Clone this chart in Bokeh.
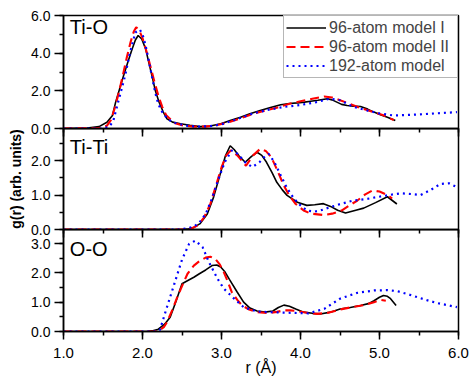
from bokeh.plotting import figure
from bokeh.layouts import column
from bokeh.models import (Range1d, Label, Legend, LegendItem,
                          SingleIntervalTicker, PrintfTickFormatter)
from bokeh.embed import file_html
from bokeh.resources import INLINE

FONT = "Liberation Sans"

# ---------------- data ----------------
series_names = ["96-atom model I", "96-atom model II", "192-atom model"]
panel_names = ["Ti-O", "Ti-Ti", "O-O"]

# Ti-O
tio_r1 = [1.0, 1.3, 1.45, 1.55, 1.62, 1.66, 1.71, 1.76, 1.82, 1.87, 1.91, 1.945, 1.99, 2.04, 2.08, 2.12,
          2.16, 2.21, 2.26, 2.31, 2.38, 2.48, 2.6, 2.73, 2.86, 2.99, 3.11, 3.24, 3.36, 3.49, 3.62, 3.75,
          3.86, 3.96, 4.05, 4.13, 4.22, 4.34, 4.4, 4.46, 4.52, 4.59, 4.67, 4.76, 4.85, 4.93, 5.02, 5.1, 5.2]
tio_g1 = [0, 0.02, 0.1, 0.33, 0.69, 1.4, 2.1, 2.8, 3.6, 4.23, 4.7, 4.94, 4.75, 4.23, 3.5, 2.8,
          2.05, 1.4, 0.9, 0.51, 0.34, 0.25, 0.17, 0.1, 0.13, 0.25, 0.42, 0.6, 0.78, 0.96, 1.12, 1.26,
          1.33, 1.36, 1.4, 1.45, 1.5, 1.58, 1.52, 1.4, 1.28, 1.22, 1.19, 1.17, 1.03, 0.87, 0.72, 0.6, 0.42]
tio_r2 = [1.0, 1.45, 1.55, 1.6, 1.65, 1.7, 1.75, 1.8, 1.85, 1.89, 1.92, 1.96, 2.0, 2.05, 2.1, 2.15,
          2.2, 2.25, 2.3, 2.4, 2.5, 2.65, 2.8, 2.95, 3.1, 3.25, 3.4, 3.55, 3.7, 3.85, 4.0, 4.15, 4.3,
          4.4, 4.5, 4.6, 4.75, 4.9, 5.05, 5.18]
tio_g2 = [0, 0.02, 0.15, 0.45, 1.1, 1.9, 2.8, 3.75, 4.6, 5.15, 5.38, 5.2, 4.8, 4.1, 3.3, 2.5,
          1.75, 1.15, 0.7, 0.3, 0.17, 0.1, 0.1, 0.18, 0.35, 0.55, 0.78, 0.95, 1.1, 1.3, 1.45, 1.58, 1.7,
          1.65, 1.5, 1.35, 1.1, 0.9, 0.7, 0.45]
tio_r3 = [1.0, 1.5, 1.58, 1.63, 1.68, 1.73, 1.785, 1.84, 1.91, 1.966, 2.0, 2.04, 2.1, 2.16, 2.2, 2.25,
          2.31, 2.38, 2.55, 2.7, 2.85, 3.0, 3.2, 3.4, 3.6, 3.8, 4.0, 4.2, 4.37, 4.5, 4.67, 4.85, 5.0,
          5.18, 5.43, 5.7, 5.98]
tio_g3 = [0, 0.0, 0.1, 0.4, 1.22, 2.0, 2.9, 4.0, 5.1, 5.25, 5.0, 4.4, 3.17, 1.93, 1.3, 0.87,
          0.55, 0.33, 0.15, 0.1, 0.12, 0.22, 0.5, 0.8, 1.0, 1.15, 1.25, 1.4, 1.58, 1.5, 1.15, 0.95, 0.8,
          0.69, 0.73, 0.8, 0.87]

# Ti-Ti
titi_r1 = [1.0, 2.5, 2.57, 2.65, 2.73, 2.82, 2.9, 2.99, 3.05, 3.11, 3.16, 3.22, 3.3, 3.38, 3.45, 3.51,
           3.57, 3.64, 3.7, 3.77, 3.83, 3.96, 4.08, 4.18, 4.29, 4.38, 4.47, 4.57, 4.7, 4.8, 4.95, 5.1, 5.22]
titi_g1 = [0, 0, 0.01, 0.06, 0.17, 0.45, 0.94, 1.66, 2.14, 2.43, 2.32, 2.14, 1.95, 2.12, 2.24, 2.15,
           1.95, 1.65, 1.37, 1.15, 0.99, 0.79, 0.7, 0.72, 0.75, 0.67, 0.56, 0.48, 0.56, 0.62, 0.78, 0.95, 0.74]
titi_r2 = [1.0, 2.55, 2.62, 2.7, 2.78, 2.86, 2.94, 3.0, 3.06, 3.12, 3.2, 3.31, 3.4, 3.49, 3.56, 3.63,
           3.7, 3.79, 3.86, 3.94, 4.04, 4.13, 4.29, 4.4, 4.52, 4.62, 4.72, 4.82, 4.91, 5.0, 5.1, 5.16]
titi_g2 = [0, 0, 0.03, 0.12, 0.35, 0.75, 1.35, 1.8, 2.15, 2.3, 2.15, 1.85, 2.15, 2.34, 2.28, 2.1,
           1.75, 1.27, 0.98, 0.74, 0.55, 0.46, 0.42, 0.46, 0.55, 0.7, 0.84, 1.02, 1.13, 1.1, 1.0, 0.9]
titi_r3 = [1.0, 2.45, 2.55, 2.65, 2.72, 2.8, 2.88, 2.96, 3.04, 3.13, 3.2, 3.3, 3.39, 3.48, 3.55, 3.6,
           3.67, 3.75, 3.83, 3.92, 4.0, 4.08, 4.18, 4.25, 4.38, 4.52, 4.67, 4.82, 4.97, 5.12, 5.27, 5.4,
           5.52, 5.65, 5.77, 5.88, 5.96]
titi_g3 = [0, 0, 0.03, 0.08, 0.2, 0.45, 0.9, 1.45, 1.95, 2.29, 2.2, 1.95, 1.81, 1.95, 2.12, 2.19,
           1.95, 1.57, 1.2, 0.89, 0.7, 0.55, 0.52, 0.55, 0.65, 0.75, 0.84, 0.88, 0.94, 1.0, 1.05, 1.03,
           1.0, 1.15, 1.32, 1.34, 1.25]

# O-O
oo_r1 = [1.0, 2.05, 2.12, 2.2, 2.28, 2.35, 2.42, 2.5, 2.58, 2.65, 2.72, 2.8, 2.88, 2.94, 2.99, 3.04,
         3.1, 3.2, 3.28, 3.36, 3.45, 3.55, 3.65, 3.72, 3.79, 3.86, 3.94, 4.04, 4.15, 4.25, 4.38, 4.5,
         4.63, 4.76, 4.86, 4.93, 5.0, 5.05, 5.1, 5.14, 5.21]
oo_g1 = [0, 0, 0.02, 0.08, 0.25, 0.49, 1.0, 1.63, 1.75, 1.85, 1.97, 2.1, 2.25, 2.27, 2.2, 2.05,
         1.78, 1.34, 1.0, 0.8, 0.7, 0.66, 0.7, 0.82, 0.9, 0.86, 0.77, 0.66, 0.62, 0.6, 0.66, 0.77,
         0.82, 0.89, 0.95, 1.05, 1.17, 1.23, 1.2, 1.12, 0.89]
oo_r2 = [1.0, 2.15, 2.22, 2.27, 2.31, 2.38, 2.44, 2.5, 2.57, 2.65, 2.73, 2.8, 2.86, 2.92, 2.98, 3.03,
         3.08, 3.13, 3.2, 3.26, 3.35, 3.45, 3.6, 3.7, 3.79, 3.87, 3.95, 4.08, 4.21, 4.35, 4.5, 4.65,
         4.8, 4.93, 5.02, 5.08]
oo_g2 = [0, 0, 0.05, 0.15, 0.32, 0.75, 1.17, 1.55, 1.97, 2.25, 2.42, 2.52, 2.55, 2.48, 2.28, 2.02,
         1.7, 1.34, 1.08, 0.89, 0.75, 0.66, 0.63, 0.67, 0.72, 0.72, 0.7, 0.64, 0.6, 0.64, 0.75, 0.83,
         0.9, 1.0, 1.08, 1.05]
oo_r3 = [1.0, 2.15, 2.22, 2.3, 2.4, 2.5, 2.59, 2.67, 2.76, 2.84, 2.95, 3.03, 3.16, 3.28, 3.45, 3.6,
         3.85, 4.1, 4.3, 4.5, 4.72, 4.93, 5.1, 5.22, 5.35, 5.48, 5.6, 5.73, 5.86, 5.98]
oo_g3 = [0, 0, 0.05, 0.75, 1.6, 2.45, 2.99, 3.1, 2.88, 2.37, 1.8, 1.46, 1.12, 0.83, 0.68, 0.66,
         0.64, 0.62, 0.77, 1.12, 1.32, 1.4, 1.41, 1.38, 1.28, 1.17, 1.07, 0.97, 0.9, 0.83]

x_min, x_max = 1.0, 6.0
y_max = [6.0, 2.93, 3.48]
y_step = [2, 1, 1]
label_top = [5.98, 2.72, 3.18]

colors = ["black", "#FF0000", "#0000FF"]
widths = [1.6, 2.1, 2.2]
dashes = ["solid", "9 5", "2 4"]

panels = [
    [(tio_r1, tio_g1), (tio_r2, tio_g2), (tio_r3, tio_g3)],
    [(titi_r1, titi_g1), (titi_r2, titi_g2), (titi_r3, titi_g3)],
    [(oo_r1, oo_g1), (oo_r2, oo_g2), (oo_r3, oo_g3)],
]

OVER = 10  # band below panels 1 and 2 (ticks + lower half of "0.0"), overlapped by next panel
AXW = 1.5

x_range = Range1d(x_min, x_max)
frame_heights = [113, 101, 102]
figs = []
for i in range(3):
    last = (i == 2)
    p = figure(frame_width=395, frame_height=frame_heights[i],
               x_range=x_range, y_range=Range1d(0, y_max[i]),
               output_backend="svg", toolbar_location=None,
               min_border_left=63, min_border_right=16,
               min_border_top=15 if i == 0 else 0,
               min_border_bottom=51 if last else OVER)
    if i > 0:
        p.margin = (-OVER, 0, 0, 0)
    p.border_fill_alpha = 0.0
    p.background_fill_alpha = 0.0
    p.outline_line_color = "black"
    p.outline_line_width = AXW
    p.xgrid.visible = False
    p.ygrid.visible = False

    ya = p.yaxis[0]
    ya.ticker = SingleIntervalTicker(interval=y_step[i], num_minor_ticks=2)
    ya.formatter = PrintfTickFormatter(format="%.1f")
    ya.major_tick_out = 9
    ya.major_tick_in = 0
    ya.minor_tick_out = 4
    ya.minor_tick_in = 0
    ya.major_label_text_font = FONT
    ya.major_label_text_font_size = "14px"
    ya.major_label_text_color = "black"
    ya.major_label_standoff = 4
    ya.axis_line_color = "black"
    ya.axis_line_width = AXW
    ya.major_tick_line_color = "black"
    ya.minor_tick_line_color = "black"
    ya.major_tick_line_width = AXW
    ya.minor_tick_line_width = AXW
    if i == 1:
        ya.axis_label = "g(r) (arb. units)"
        ya.axis_label_text_font = FONT
        ya.axis_label_text_font_size = "14px"
        ya.axis_label_text_font_style = "bold"
        ya.axis_label_text_color = "black"
        ya.axis_label_standoff = 4

    xa = p.xaxis[0]
    xa.ticker = SingleIntervalTicker(interval=1, num_minor_ticks=2)
    xa.formatter = PrintfTickFormatter(format="%.1f")
    xa.major_tick_out = 8
    xa.major_tick_in = 0
    xa.minor_tick_out = 4
    xa.minor_tick_in = 0
    xa.axis_line_color = "black"
    xa.axis_line_width = AXW
    xa.major_tick_line_color = "black"
    xa.minor_tick_line_color = "black"
    xa.major_tick_line_width = AXW
    xa.minor_tick_line_width = AXW
    xa.major_label_text_font = FONT
    if last:
        xa.major_label_text_font_size = "15px"
        xa.major_label_text_color = "black"
        xa.major_label_standoff = 8
        xa.axis_label = "r (Å)"
        xa.axis_label_text_font = FONT
        xa.axis_label_text_font_size = "16px"
        xa.axis_label_text_font_style = "normal"
        xa.axis_label_text_color = "black"
        xa.axis_label_standoff = -2
    else:
        # tick marks only: labels of the upper panels are not shown
        xa.major_label_text_font_size = "1px"
        xa.major_label_text_color = None
        xa.major_label_standoff = 0

    renderers = []
    for k, (r, g) in enumerate(panels[i]):
        rr = p.line(r, g, line_color=colors[k], line_width=widths[k], line_dash=dashes[k])
        renderers.append(rr)

    p.add_layout(Label(x=1.08, y=label_top[i], text=panel_names[i], text_font=FONT,
                       text_font_size="20px", text_baseline="top", text_color="black"))

    if i == 0:
        legend = Legend(items=[LegendItem(label=series_names[k], renderers=[renderers[k]])
                               for k in range(3)],
                        location="top_right", margin=0, padding=2, spacing=0,
                        label_text_font=FONT, label_text_font_size="16px",
                        label_height=19, glyph_height=19, glyph_width=40, label_standoff=3,
                        label_width=126,
                        border_line_color="#6e6e6e", border_line_width=1.5,
                        background_fill_color="white", background_fill_alpha=1.0)
        p.add_layout(legend, "center")
    figs.append(p)

layout = column(*figs, spacing=0)
open("out.html", "w").write(file_html(layout, INLINE))
